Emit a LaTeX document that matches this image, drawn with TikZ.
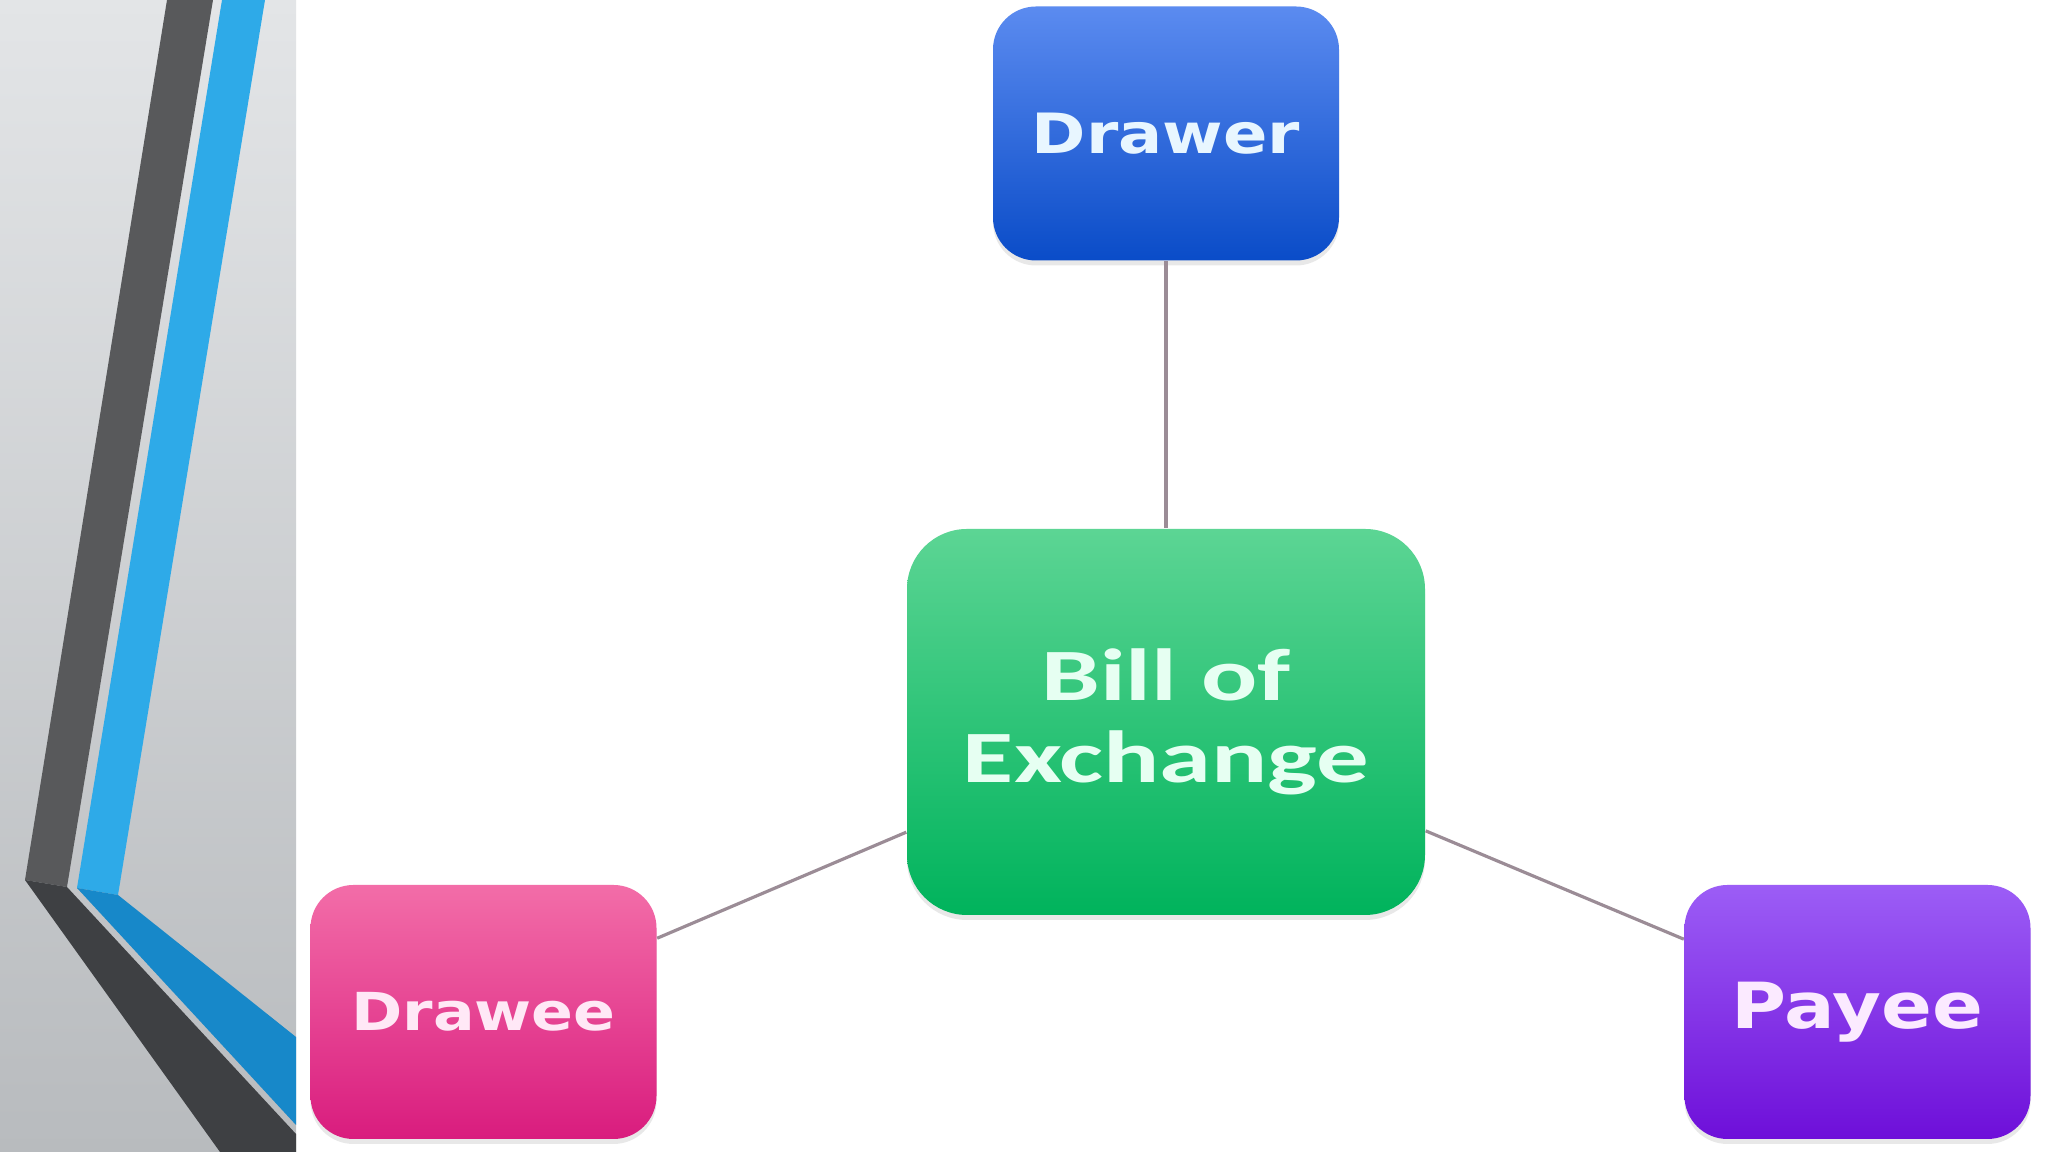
\documentclass[tikz,border=0pt]{standalone}
\usepackage{fontspec}
\usetikzlibrary{shadows}
\newfontfamily\partyfont{DejaVu Sans}[FakeStretch=1.18]
\newfontfamily\billfont{Carlito}[FakeStretch=1.42]

\definecolor{panelTop}{HTML}{E3E5E7}
\definecolor{panelBottom}{HTML}{B8BBBE}
\definecolor{stripeDark}{HTML}{58595B}
\definecolor{stripeDarker}{HTML}{3E4043}
\definecolor{stripeBlue}{HTML}{2EAAE8}
\definecolor{stripeBlueDark}{HTML}{1788C9}
\definecolor{linkgray}{HTML}{9B8C96}

\tikzset{
  party/.style={rectangle, rounded corners=0.43cm, minimum width=3.46cm, minimum height=2.54cm, text centered, inner sep=0pt, drop shadow={opacity=0.18, shadow xshift=0cm, shadow yshift=-0.05cm}},
  billbox/.style={rectangle, rounded corners=0.6cm, minimum width=5.18cm, minimum height=3.86cm, align=center, inner sep=0pt, drop shadow={opacity=0.18, shadow xshift=0cm, shadow yshift=-0.05cm}},
  link/.style={draw=linkgray, line width=0.9pt}
}

\begin{document}
\begin{tikzpicture}
\useasboundingbox (0,0) rectangle (20.48,11.52);
\fill[white] (0,0) rectangle (20.48,11.52);

% side panel
\shade[top color=panelTop, bottom color=panelBottom] (0,0) rectangle (2.96,11.52);
\fill[stripeDark] (1.67,11.52) -- (2.13,11.52) -- (0.67,2.65) -- (0.25,2.72) -- cycle;
\fill[stripeDarker] (0.25,2.72) -- (0.67,2.65) -- (2.96,0.18) -- (2.96,0) -- (2.20,0) -- cycle;
\fill[stripeBlue] (2.22,11.52) -- (2.65,11.52) -- (1.18,2.57) -- (0.77,2.64) -- cycle;
\fill[stripeBlueDark] (0.77,2.64) -- (1.18,2.57) -- (2.96,1.15) -- (2.96,0.27) -- cycle;

\node (bill) [billbox, top color={rgb,255:red,92;green,213;blue,148}, bottom color={rgb,255:red,0;green,179;blue,92}, text={rgb,255:red,230;green,255;blue,242}, font=\billfont\bfseries\fontsize{21}{23.3}\selectfont] at (11.66,4.30) {Bill of\\Exchange};

\node (drawer) [party, above of=bill, node distance=5.885cm, top color={rgb,255:red,91;green,139;blue,240}, bottom color={rgb,255:red,10;green,76;blue,200}, text={rgb,255:red,232;green,246;blue,255}, font=\partyfont\bfseries\fontsize{15.8}{18}\selectfont] {Drawer};

\node (drawee) [party, left of=bill, node distance=6.825cm, yshift=-2.9cm, top color={rgb,255:red,243;green,109;blue,168}, bottom color={rgb,255:red,217;green,28;blue,126}, text={rgb,255:red,255;green,232;blue,246}, font=\partyfont\bfseries\fontsize{14.9}{17}\selectfont] {Drawee};

\node (payee) [party, right of=bill, node distance=6.915cm, yshift=-2.9cm, top color={rgb,255:red,156;green,93;blue,246}, bottom color={rgb,255:red,110;green,15;blue,217}, text={rgb,255:red,251;green,234;blue,255}, font=\partyfont\bfseries\fontsize{18.1}{20}\selectfont] {Payee};

\draw[link] (drawer) -- (bill);
\draw[link] (drawee) -- (bill);
\draw[link] (payee) -- (bill);

\end{tikzpicture}
\end{document}
